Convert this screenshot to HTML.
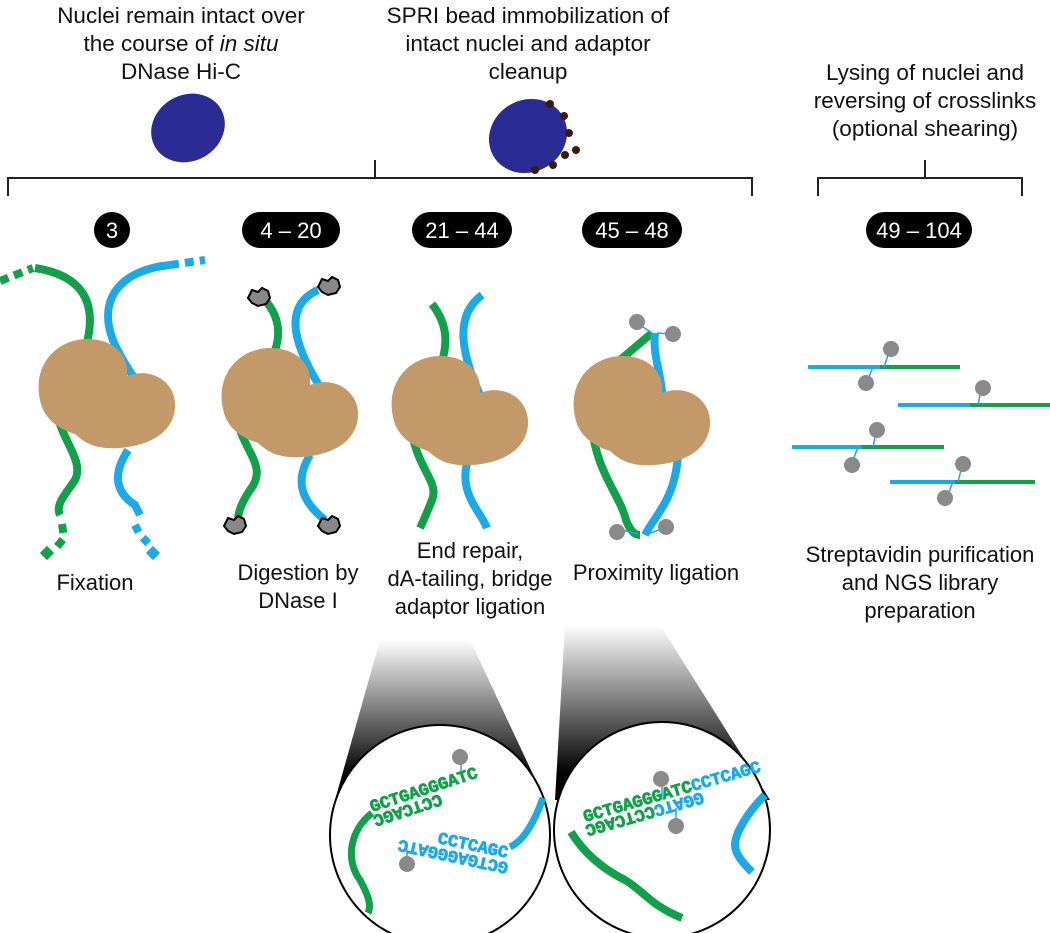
<!DOCTYPE html>
<html><head><meta charset="utf-8"><style>
html,body{margin:0;padding:0;background:#fff}
svg{display:block}
text{font-family:"Liberation Sans",Arial,sans-serif;fill:#111}
text.m{font-family:"Liberation Mono","DejaVu Sans Mono",monospace;font-weight:bold}
</style></head><body>
<svg width="1050" height="933" viewBox="0 0 1050 933" xmlns="http://www.w3.org/2000/svg">
<defs>
<linearGradient id="g" x1="0" y1="0" x2="0" y2="1">
<stop offset="0" stop-color="#fff"/><stop offset="0.85" stop-color="#000"/>
</linearGradient>
<path id="blob" fill="#c4996a" d="M3,62 C-5,25 22,0 52,1 C78,2 92,18 90,38 C115,28 140,45 138,70 C136,95 112,108 82,110 C55,112 45,102 38,96 C18,90 6,78 3,62Z"/>
</defs>
<!-- top texts -->
<g font-size="22.5" text-anchor="middle">
<text x="181" y="23">Nuclei remain intact over</text>
<text x="181" y="51">the course of <tspan font-style="italic">in situ</tspan></text>
<text x="181" y="79">DNase Hi-C</text>
<text x="528" y="23">SPRI bead immobilization of</text>
<text x="528" y="51">intact nuclei and adaptor</text>
<text x="528" y="79">cleanup</text>
<text x="925" y="80">Lysing of nuclei and</text>
<text x="925" y="108">reversing of crosslinks</text>
<text x="925" y="136">(optional shearing)</text>
</g>
<ellipse cx="188" cy="128" rx="38" ry="33" transform="rotate(-30 188 128)" fill="#2b2b94"/>
<ellipse cx="528" cy="136" rx="40" ry="36" transform="rotate(-30 528 136)" fill="#2b2b94"/>
<g fill="#3a1a0e"><circle cx="550" cy="104" r="4"/><circle cx="564" cy="116" r="4"/><circle cx="569" cy="133" r="4"/><circle cx="576" cy="150" r="4"/><circle cx="565" cy="155" r="4"/><circle cx="553" cy="165" r="4"/><circle cx="535" cy="170" r="4"/></g>
<!-- brackets -->
<g stroke="#222" stroke-width="2" fill="none">
<path d="M8 196V178H752V196M375 178V160"/>
<path d="M818 196V178H1022V196M925 178V160"/>
</g>
<!-- pills -->
<g fill="#000">
<circle cx="112" cy="230" r="18"/>
<rect x="242" y="212" width="98" height="36" rx="18"/>
<rect x="412" y="212" width="100" height="36" rx="18"/>
<rect x="582" y="212" width="100" height="36" rx="18"/>
<rect x="866" y="212" width="106" height="36" rx="18"/>
</g>
<g font-size="22" text-anchor="middle">
<text x="112" y="238" style="fill:#fff">3</text>
<text x="291" y="238" style="fill:#fff">4 – 20</text>
<text x="462" y="238" style="fill:#fff">21 – 44</text>
<text x="632" y="238" style="fill:#fff">45 – 48</text>
<text x="919" y="238" style="fill:#fff">49 – 104</text>
</g>
<!-- fixation -->
<g fill="none" stroke-width="8">
<path d="M0 281 L33 268" stroke="#12a04a" stroke-dasharray="9 6"/>
<path d="M35 268 C80 275 100 300 85 350" stroke="#12a04a"/>
<path d="M55 405 C60 440 85 460 75 480 C65 495 55 505 60 515" stroke="#12a04a"/>
<path d="M62 524 L64 538 L56 548" stroke="#12a04a" stroke-dasharray="9 7"/>
<path d="M170 265 L205 260" stroke="#1ba9e8" stroke-dasharray="9 6"/>
<path d="M170 265 C120 270 95 300 115 345 C125 365 135 380 140 385" stroke="#1ba9e8"/>
<path d="M128 450 C115 470 112 490 135 505 L140 515" stroke="#1ba9e8"/>
<path d="M135 525 L140 535 L150 545" stroke="#1ba9e8" stroke-dasharray="8 7"/>
</g>
<rect x="42" y="548" width="10" height="10" transform="rotate(45 47 553)" fill="#12a04a"/>
<rect x="148" y="548" width="10" height="10" transform="rotate(45 153 553)" fill="#1ba9e8"/>
<use href="#blob" x="37" y="338"/>
<!-- digestion -->
<g fill="none" stroke-width="8">
<path d="M262 297 C285 320 280 345 268 365" stroke="#12a04a"/>
<path d="M236 412 C240 450 270 465 250 490 C240 505 238 515 238 520" stroke="#12a04a"/>
<path d="M318 290 C285 305 290 340 322 390" stroke="#1ba9e8"/>
<path d="M310 455 C295 480 300 500 325 520" stroke="#1ba9e8"/>
</g>
<g fill="#888" stroke="#000" stroke-width="2">
<path d="M248 298l4-8 6 2 4-4 6 3 2 7-4 6-8 2-6-3z"/>
<path d="M318 287l4-8 6 2 4-4 6 3 2 7-4 6-8 2-6-3z"/>
<path d="M224 526l4-8 6 2 4-4 6 3 2 7-4 6-8 2-6-3z"/>
<path d="M318 526l4-8 6 2 4-4 6 3 2 7-4 6-8 2-6-3z"/>
</g>
<use href="#blob" x="220" y="347"/>
<!-- end repair -->
<g fill="none" stroke-width="8">
<path d="M432 304 C452 330 445 350 440 370" stroke="#12a04a"/>
<path d="M410 420 C415 470 440 480 432 500 C428 510 424 520 420 528" stroke="#12a04a"/>
<path d="M482 295 C455 315 460 350 480 395" stroke="#1ba9e8"/>
<path d="M470 455 C455 490 480 510 487 528" stroke="#1ba9e8"/>
</g>
<use href="#blob" x="390" y="355"/>
<!-- proximity -->
<g fill="none" stroke-width="8">
<path d="M652 333 L620 360" stroke="#12a04a"/>
<path d="M592 425 C595 470 620 495 626 520 C630 530 634 535 640 535" stroke="#12a04a"/>
<path d="M655 333 C652 360 665 380 662 410" stroke="#1ba9e8"/>
<path d="M678 455 C675 500 655 515 645 535" stroke="#1ba9e8"/>
</g>
<g stroke="#1ba9e8" stroke-width="1.5"><path d="M640 325l12 8M657 333l14 1M622 530l16 4M648 534l16-6"/></g>
<g fill="#8a8a8a"><circle cx="637" cy="322" r="8"/><circle cx="673" cy="334" r="8"/><circle cx="617" cy="532" r="8"/><circle cx="666" cy="527" r="8"/></g>
<use href="#blob" x="572" y="355"/>
<!-- right fragments -->
<g stroke-width="4">
<path d="M808 367H880" stroke="#1ba9e8"/><path d="M880 367H960" stroke="#12a04a"/>
<path d="M898 405H970" stroke="#1ba9e8"/><path d="M970 405H1050" stroke="#12a04a"/>
<path d="M792 447H862" stroke="#1ba9e8"/><path d="M862 447H944" stroke="#12a04a"/>
<path d="M890 482H955" stroke="#1ba9e8"/><path d="M955 482H1035" stroke="#12a04a"/>
</g>
<g stroke="#1ba9e8" stroke-width="1.5"><path d="M888 355l-4 12M868 379l5-12M980 395l-2 10M876 432l-3 15M852 463l6-16M962 466l-4 16M948 494l5-12"/></g>
<g fill="#8a8a8a"><circle cx="891" cy="349" r="8"/><circle cx="866" cy="383" r="8"/><circle cx="983" cy="388" r="8"/><circle cx="877" cy="430" r="8"/><circle cx="852" cy="465" r="8"/><circle cx="963" cy="464" r="8"/><circle cx="945" cy="498" r="8"/></g>
<!-- labels -->
<g font-size="22" text-anchor="middle">
<text x="95" y="590">Fixation</text>
<text x="298" y="580">Digestion by</text>
<text x="298" y="608">DNase I</text>
<text x="470" y="558">End repair,</text>
<text x="470" y="586">dA-tailing, bridge</text>
<text x="470" y="614">adaptor ligation</text>
<text x="656" y="580">Proximity ligation</text>
<text x="920" y="562">Streptavidin purification</text>
<text x="920" y="590">and NGS library</text>
<text x="920" y="618">preparation</text>
</g>
<!-- cones -->
<path d="M380 640 L470 640 L545 800 L335 800Z" fill="url(#g)"/>
<path d="M565 625 L660 625 L770 800 L555 800Z" fill="url(#g)"/>
<circle cx="440" cy="835" r="110" fill="#fff" stroke="#000" stroke-width="2"/>
<circle cx="662" cy="830" r="108" fill="#fff" stroke="#000" stroke-width="2"/>
<!-- left circle content -->
<g fill="none" stroke-width="7">
<path d="M372 813 C350 830 345 860 360 880 C368 895 372 905 368 913" stroke="#12a04a"/>
<path d="M510 847 C525 840 535 820 543 798" stroke="#1ba9e8"/>
</g>
<g font-size="17" stroke-width="0.8">
<text class="m" x="372" y="812" transform="rotate(-18 372 812)" style="fill:#12a04a;stroke:#12a04a">GCTGAGGGATC</text>
<text class="m" x="440" y="794" transform="rotate(162 440 794)" style="fill:#12a04a;stroke:#12a04a">CCTCAGC</text>
<text class="m" x="437" y="843" transform="rotate(12 437 843)" style="fill:#1ba9e8;stroke:#1ba9e8">CCTCAGC</text>
<text class="m" x="509" y="863" transform="rotate(192 509 863)" style="fill:#1ba9e8;stroke:#1ba9e8">GCTGAGGGATC</text>
</g>
<g stroke="#1ba9e8" stroke-width="1.5"><path d="M461 760v12M407 850v10"/></g>
<g fill="#8a8a8a"><circle cx="460" cy="757" r="8"/><circle cx="407" cy="864" r="8"/></g>
<!-- right circle content -->
<g fill="none" stroke-width="8">
<path d="M571 832 C585 855 605 870 625 880 C645 892 650 905 682 918" stroke="#12a04a"/>
<path d="M765 795 C745 815 735 835 735 845 C735 855 745 865 752 872" stroke="#1ba9e8"/>
</g>
<g font-size="17" stroke-width="0.8">
<text class="m" x="585" y="822" transform="rotate(-16 585 822)" style="fill:#12a04a;stroke:#12a04a">GCTGAGGGATC<tspan style="fill:#1ba9e8;stroke:#1ba9e8">CCTCAGC</tspan></text>
<text class="m" x="702" y="792" transform="rotate(164 702 792)" style="fill:#1ba9e8;stroke:#1ba9e8">GGATC<tspan style="fill:#12a04a;stroke:#12a04a">CCTCAGC</tspan></text>
</g>
<g stroke="#1ba9e8" stroke-width="1.5"><path d="M662 787v10M676 808v12"/></g>
<g fill="#8a8a8a"><circle cx="661" cy="779" r="8"/><circle cx="676" cy="826" r="8"/></g>
</svg>
</body></html>
